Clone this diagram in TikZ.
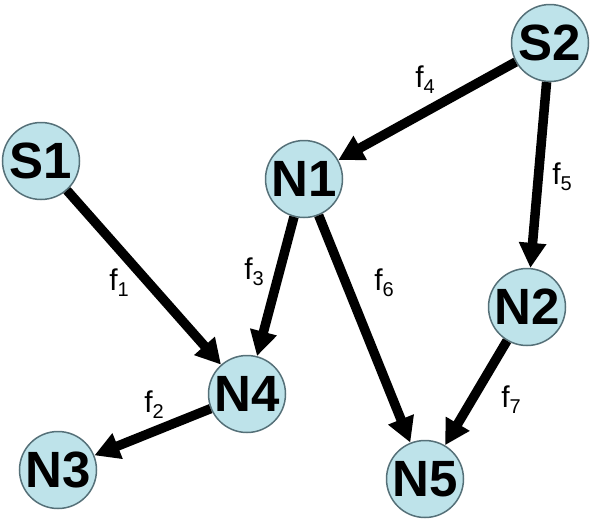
\documentclass[tikz,border=0pt]{standalone}
\usepackage{fontspec}
\setmainfont{Liberation Sans}
\usetikzlibrary{arrows.meta}
\definecolor{nodefill}{HTML}{BEE3EA}
\definecolor{nodeedge}{HTML}{557078}
\newcommand{\flab}[1]{\fontsize{30}{30}\selectfont f\raisebox{-6pt}{\fontsize{20}{20}\selectfont #1}}
\tikzset{
  netnode/.style={circle, draw=nodeedge, line width=1.5pt, fill=nodefill, minimum size=77pt, inner sep=0pt, font=\fontsize{51}{51}\selectfont\bfseries},
  flow/.style={line width=9.5pt, -{Triangle[length=25pt,width=26pt]}, black},
  flabel/.style={inner sep=0pt}
}
\begin{document}
\begin{tikzpicture}[x=1pt,y=-1pt]
\useasboundingbox (0,0) rectangle (595,520);
\node[netnode] (S1) at (41,161) {S1};
\node[netnode] (S2) at (550,43) {S2};
\node[netnode] (N1) at (304,179) {N1};
\node[netnode] (N2) at (527,307) {N2};
\node[netnode] (N3) at (58,470) {N3};
\node[netnode] (N4) at (247,394) {N4};
\node[netnode] (N5) at (425,479) {N5};
\draw[flow] (S1) -- (N4);
\draw[flow] (N4) -- (N3);
\draw[flow] (N1) -- (N4);
\draw[flow] (S2) -- (N1);
\draw[flow] (S2) -- (N2);
\draw[flow] (N1) -- (N5);
\draw[flow] (N2) -- (N5);
\node[flabel] (l1) at (119,283) {\flab{1}};
\node[flabel] (l2) at (154,405) {\flab{2}};
\node[flabel] (l3) at (254,272) {\flab{3}};
\node[flabel] (l4) at (425,80) {\flab{4}};
\node[flabel] (l5) at (562,177) {\flab{5}};
\node[flabel] (l6) at (384,283) {\flab{6}};
\node[flabel] (l7) at (511,400) {\flab{7}};
\end{tikzpicture}
\end{document}
